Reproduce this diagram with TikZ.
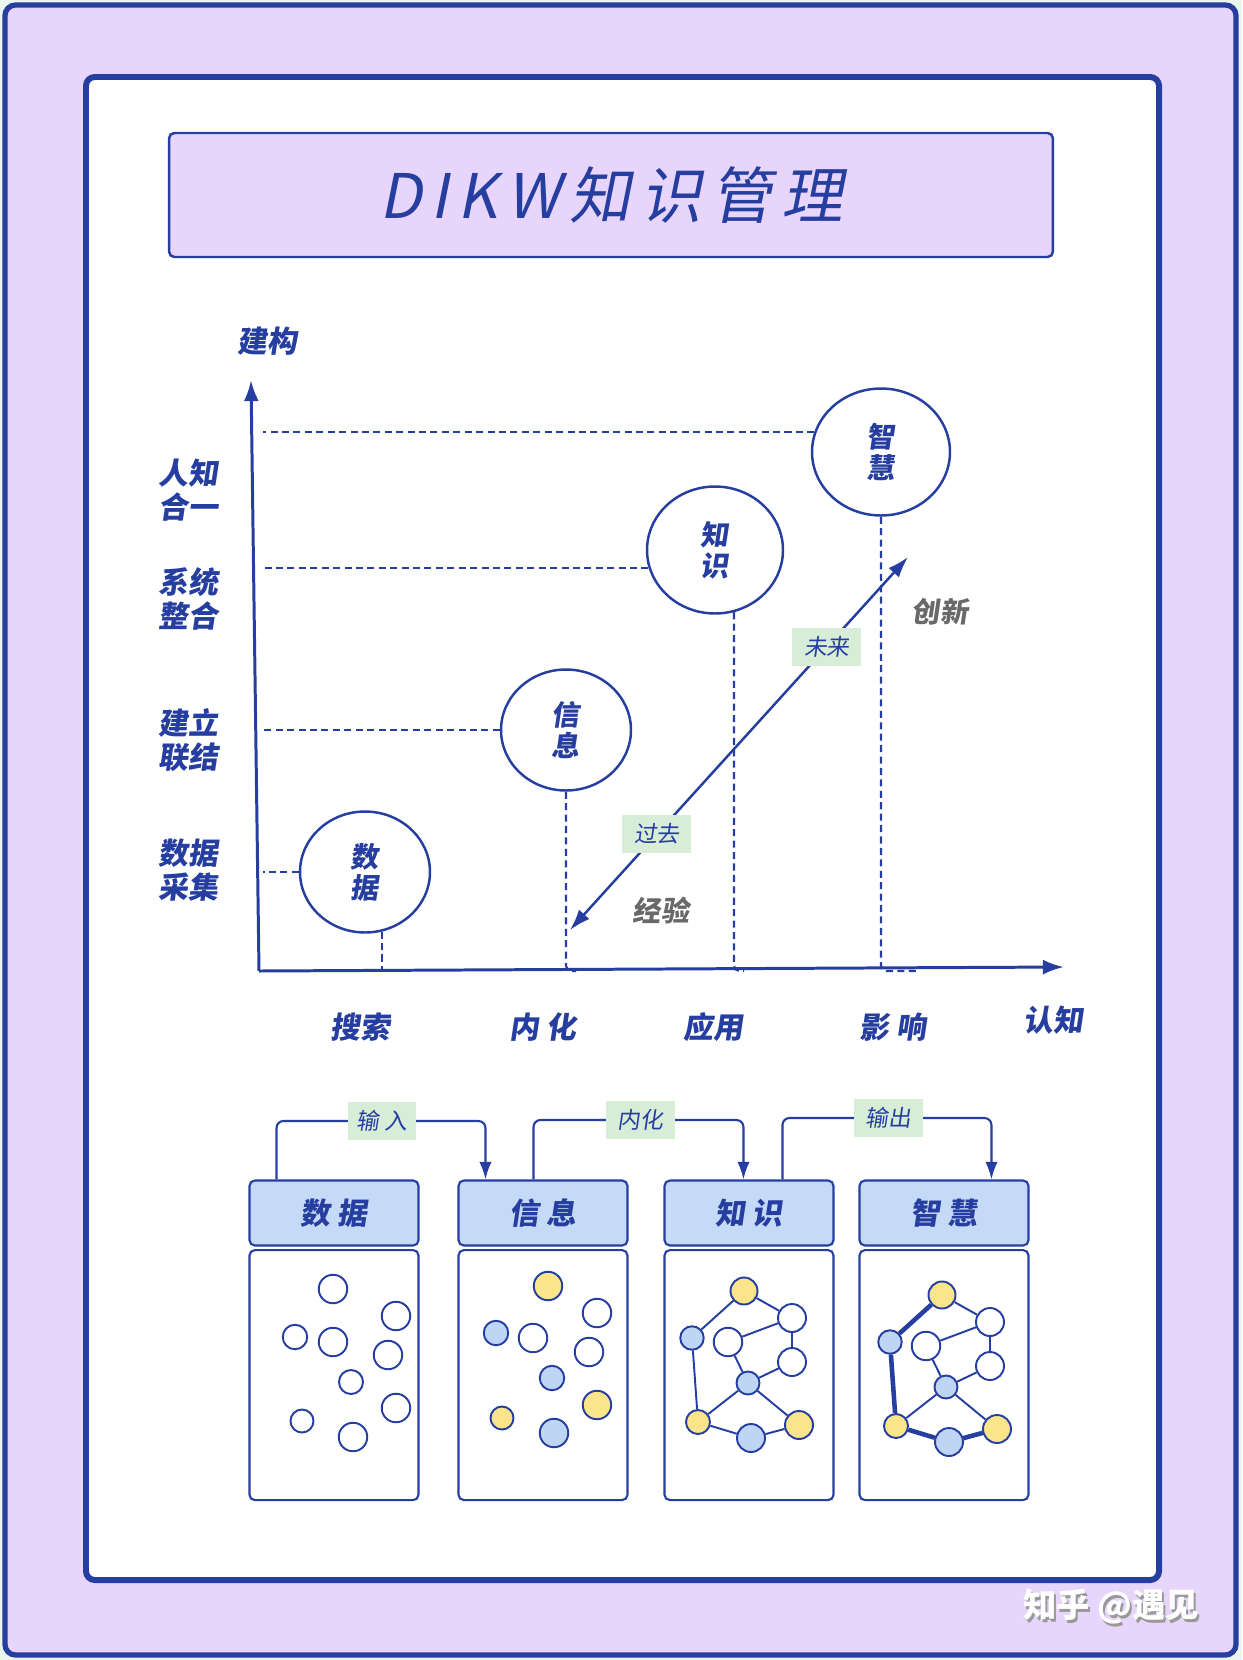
\documentclass[tikz,border=0pt]{standalone}
\usepackage{fontspec}
\newfontfamily\cjk[FakeSlant=0.15]{Noto Sans CJK SC}
\newfontfamily\cjkup{Noto Sans CJK SC}
\newfontfamily\titlefont[FakeSlant=0.2,LetterSpace=15]{Noto Sans CJK SC}
\usepackage{tikz}
\usetikzlibrary{arrows.meta}
\usetikzlibrary{shapes.geometric}
\usetikzlibrary{positioning}
\usetikzlibrary{calc}
\definecolor{dkblue}{RGB}{38,62,160}
\definecolor{lavender}{RGB}{232,213,251}
\definecolor{paleBlue}{RGB}{197,218,247}
\definecolor{dotBlue}{RGB}{190,213,246}
\definecolor{dotYellow}{RGB}{250,229,138}
\definecolor{tagGreen}{RGB}{216,237,216}
\definecolor{textGray}{RGB}{105,105,105}
\definecolor{bgGreen}{RGB}{233,245,237}
\tikzset{
  every node/.style = {text=dkblue, font=\cjk},
  bubble/.style = {ellipse, draw=dkblue, line width=1.4pt, fill=white, align=center,
    minimum width=2.6cm, minimum height=2.42cm, inner sep=0pt,
    font=\cjk\bfseries\fontsize{16}{17.5}\selectfont},
  ylabel/.style = {align=center, font=\cjk\bfseries\fontsize{17}{19.5}\selectfont},
  xlabel/.style = {font=\cjk\bfseries\fontsize{17}{17}\selectfont},
  note/.style = {text=textGray, font=\cjk\bfseries\fontsize{16}{16}\selectfont},
  tag/.style = {fill=tagGreen, minimum width=1.38cm, minimum height=0.76cm,
    inner sep=0pt, font=\cjk\fontsize{13}{13}\selectfont},
  guide/.style = {dkblue, line width=1.2pt, dash pattern=on 4pt off 2.5pt},
  axis/.style = {-{Latex[length=12pt,width=8.5pt]}, dkblue, line width=1.7pt},
  trend/.style = {{Latex[length=12pt,width=8pt]}-{Latex[length=12pt,width=8pt]}, dkblue, line width=1.4pt},
  head/.style = {draw=dkblue, fill=paleBlue, line width=1.2pt, rounded corners=3pt,
    minimum width=3.38cm, minimum height=1.3cm,
    font=\cjk\bfseries\fontsize{17}{17}\selectfont},
  cell/.style = {draw=dkblue, fill=white, line width=1.2pt, rounded corners=3pt,
    minimum width=3.38cm, minimum height=5cm},
  flow/.style = {-{Latex[length=10pt,width=7pt]}, dkblue, line width=1.2pt, rounded corners=4pt},
  ball/.style = {circle, draw=dkblue, line width=1.1pt, inner sep=0pt, minimum size=#1cm},
  link/.style = {dkblue, line width=1.1pt},
  boldlink/.style = {dkblue, line width=2.6pt},
}

\begin{document}
\begin{tikzpicture}[x=0.02cm, y=-0.02cm]
  \useasboundingbox (0,0) rectangle (1242,1660);
  % frames
  \fill[bgGreen] (0,0) rectangle (1242,1660);
  \draw[dkblue, fill=lavender, line width=3pt, rounded corners=6pt] (5,5) rectangle (1236,1655);
  \draw[dkblue, fill=white, line width=3.4pt, rounded corners=5pt] (86,77) rectangle (1159,1580);
  \node[draw=dkblue, fill=lavender, line width=1.4pt, rounded corners=3pt,
        minimum width=17.68cm, minimum height=2.48cm,
        font=\titlefont\fontsize{35}{35}\selectfont] (title) at (611,195) {DIKW知识管理};

  % axes
  \coordinate (origin) at (259,971);
  \coordinate (yend) at (251,380);
  \coordinate (xend) at (1064,967);
  \coordinate (ygd) at (263,0);
  \draw[axis] (origin) -- (yend);
  \draw[axis] (origin) -- (xend);
  \node[xlabel] (yname) at (267,341) {建构};
  \node[xlabel] (xname) at (1053,1020) {认知};

  % levels
  \node[ylabel] (l4) at (188,490) {人知\\合一};
  \node[ylabel] (l3) at (188,599) {系统\\整合};
  \node[ylabel] (l2) at (188,740) {建立\\联结};
  \node[ylabel] (l1) at (188,870) {数据\\采集};

  % stages
  \node[xlabel] (s1) at (360,1027) {搜索};
  \node[xlabel] (s2) at (543,1027) {内 化};
  \node[xlabel] (s3) at (713,1027) {应用};
  \node[xlabel] (s4) at (893,1027) {影 响};

  % bubbles
  \node[bubble] (data) at (365,872) {数\\据};
  \node[bubble] (info) at (566,730) {信\\息};
  \node[bubble, minimum width=2.72cm, minimum height=2.54cm] (know) at (715,550) {知\\识};
  \node[bubble, minimum width=2.76cm, minimum height=2.54cm] (smart) at (881,452) {智\\慧};

  \draw[guide] (data.west) -- (data.west -| ygd);
  \draw[guide] (info.west) -- (info.west -| ygd);
  \draw[guide] (know.195) -- (know.195 -| ygd);
  \draw[guide] (smart.163) -- (smart.163 -| ygd);
  \draw[guide] (data.286) -- (data.286 |- origin);
  \draw[guide, rounded corners=3pt] (info.south) -- (info.south |- origin) -- ++(10,0);
  \draw[guide, rounded corners=3pt] (know.287) -- (know.287 |- origin) -- ++(10,0);
  \draw[guide, rounded corners=3pt] (smart.south) -- (smart.south |- origin) -- ++(38,0);

  % past / future
  \coordinate (past) at (570,930);
  \coordinate (future) at (908,557);
  \draw[trend] (past) -- node[tag, pos=0.257] (tPast) {过去}
                         node[tag, pos=0.76] (tFuture) {未来} (future);
  \node[note] (new) at (940,612) {创新};
  \node[note] (exp) at (661,910) {经验};

  % boxes
  \foreach \n/\x/\t in {hD/334/数 据, hI/543/信 息, hK/749/知 识, hW/944/智 慧} {
    \node[head] (\n) at (\x,1213) {\t};
    \node[cell, below=0.05cm of \n] (b\n) {};
  }

  \coordinate (cIn) at (382,1121);
  \coordinate (cMid) at (640,1120);
  \coordinate (cOut) at (888,1118);
  \draw[flow] ($(hD.north west)+(28,0)$) |- (cIn) -| ($(hI.north west)+(28,0)$);
  \draw[flow] ($(hI.north west)+(76,0)$) |- (cMid) -| ($(hK.north west)+(80,0)$);
  \draw[flow] ($(hK.north west)+(119,0)$) |- (cOut) -| ($(hW.north west)+(133,0)$);
  \node[tag] (tIn) at (cIn) {输 入};
  \node[tag] (tMid) at (cMid) {内化};
  \node[tag] (tOut) at (cOut) {输出};

  % data dots
  \foreach \x/\y/\d in {333/1289/0.57, 396/1316/0.57, 295/1337/0.49, 333/1342/0.57,
      388/1355/0.57, 351/1382/0.48, 396/1408/0.57, 302/1421/0.46, 353/1437/0.57}
    \node[ball=\d, fill=white] at (\x,\y) {};

  % info dots
  \foreach \x/\y/\d/\c in {548/1286/0.57/dotYellow, 597/1313/0.57/white, 496/1333/0.49/dotBlue,
      533/1338/0.57/white, 589/1352/0.57/white, 552/1378/0.49/dotBlue,
      597/1405/0.57/dotYellow, 502/1418/0.46/dotYellow, 554/1433/0.57/dotBlue}
    \node[ball=\d, fill=\c] at (\x,\y) {};

  % knowledge and wisdom graphs
  \foreach \p/\dx/\dy in {k/0/0, w/198/4} {
    \foreach \n/\x/\y/\d/\c in {A/744/1291/0.54/dotYellow, B/792/1318/0.56/white,
        C/692/1338/0.47/dotBlue, D/728/1342/0.57/white, E/792/1362/0.56/white,
        F/748/1383/0.46/dotBlue, G/698/1422/0.48/dotYellow, H/799/1425/0.56/dotYellow,
        I/751/1438/0.56/dotBlue}
      \node[ball=\d, fill=\c] (\p\n) at (\x+\dx,\y+\dy) {};
    \foreach \a/\b in {A/B, A/C, B/D, B/E, C/G, D/F, E/F, F/G, F/H, G/I, I/H}
      \draw[link] (\p\a) -- (\p\b);
  }
  \foreach \a/\b in {A/C, C/G, G/I, I/H}
    \draw[boldlink] (w\a) -- (w\b);

  % watermark
  \node[text=gray!80, font=\cjkup\bfseries\fontsize{19}{19}\selectfont] (markShadow) at (1113,1610) {知乎 @遇见};
  \node[text=white, font=\cjkup\bfseries\fontsize{19}{19}\selectfont] (mark) at (1111,1607) {知乎 @遇见};
\end{tikzpicture}
\end{document}
